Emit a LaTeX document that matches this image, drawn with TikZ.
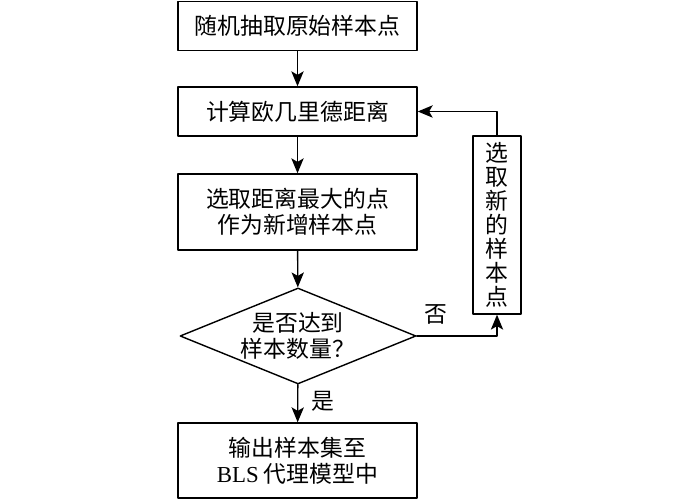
\documentclass[tikz,border=0pt]{standalone}
\usepackage{fontspec}
\setmainfont{Liberation Serif}
\newfontfamily\cjk{Noto Sans CJK SC}
\usetikzlibrary{arrows.meta,shapes.geometric,positioning}

\begin{document}
\begin{tikzpicture}[line cap=round,line join=round,>={Stealth[length=8.5pt,width=7pt,inset=2pt]},x=1.0cm,y=1.0cm,
  every node/.style={font=\cjk\fontsize{13}{15}\selectfont},
  procbox/.style={draw,line width=0.8pt,rectangle,minimum width=4.78cm,align=center,inner sep=0pt},
  testbox/.style={draw,line width=0.8pt,diamond,aspect=2.46,minimum width=4.72cm,minimum height=1.92cm,inner sep=0pt,align=center},
  flow/.style={->,line width=0.8pt}]
\useasboundingbox (0,0) rectangle (13.98,10);
\node[procbox,minimum height=0.98cm] (pick) at (5.95,9.48) {随机抽取原始样本点};
\node[procbox,minimum height=0.98cm] (dist) at (5.95,7.77) {计算欧几里德距离};
\node[procbox,minimum height=1.52cm] (far) at (5.95,5.76) {选取距离最大的点\\作为新增样本点};
\node[testbox] (enough) at (5.96,3.28) {是否达到\\样本数量？};
\node[procbox,minimum height=1.5cm] (out) at (5.95,0.79) {输出样本集至\\{\rmfamily BLS} 代理模型中};
\node[draw,line width=0.8pt,minimum width=0.96cm,minimum height=3.56cm,inner sep=0pt,align=center,
  font=\cjk\fontsize{13}{13.6}\selectfont] (newpt) at (9.94,5.5) {选\\取\\新\\的\\样\\本\\点};
% main flow
\draw[flow] (pick) -- (dist);
\draw[flow] (dist) -- (far);
\draw[flow] (far) -- (enough);
\draw[flow] (enough) -- node[right=4pt,pos=0.45] {是} (out);
% loop back
\draw[flow] (enough.east) -| node[above=3pt,pos=0.12] {否} (newpt.south);
\draw[flow] (newpt.north) |- (dist.east);
\end{tikzpicture}
\end{document}
